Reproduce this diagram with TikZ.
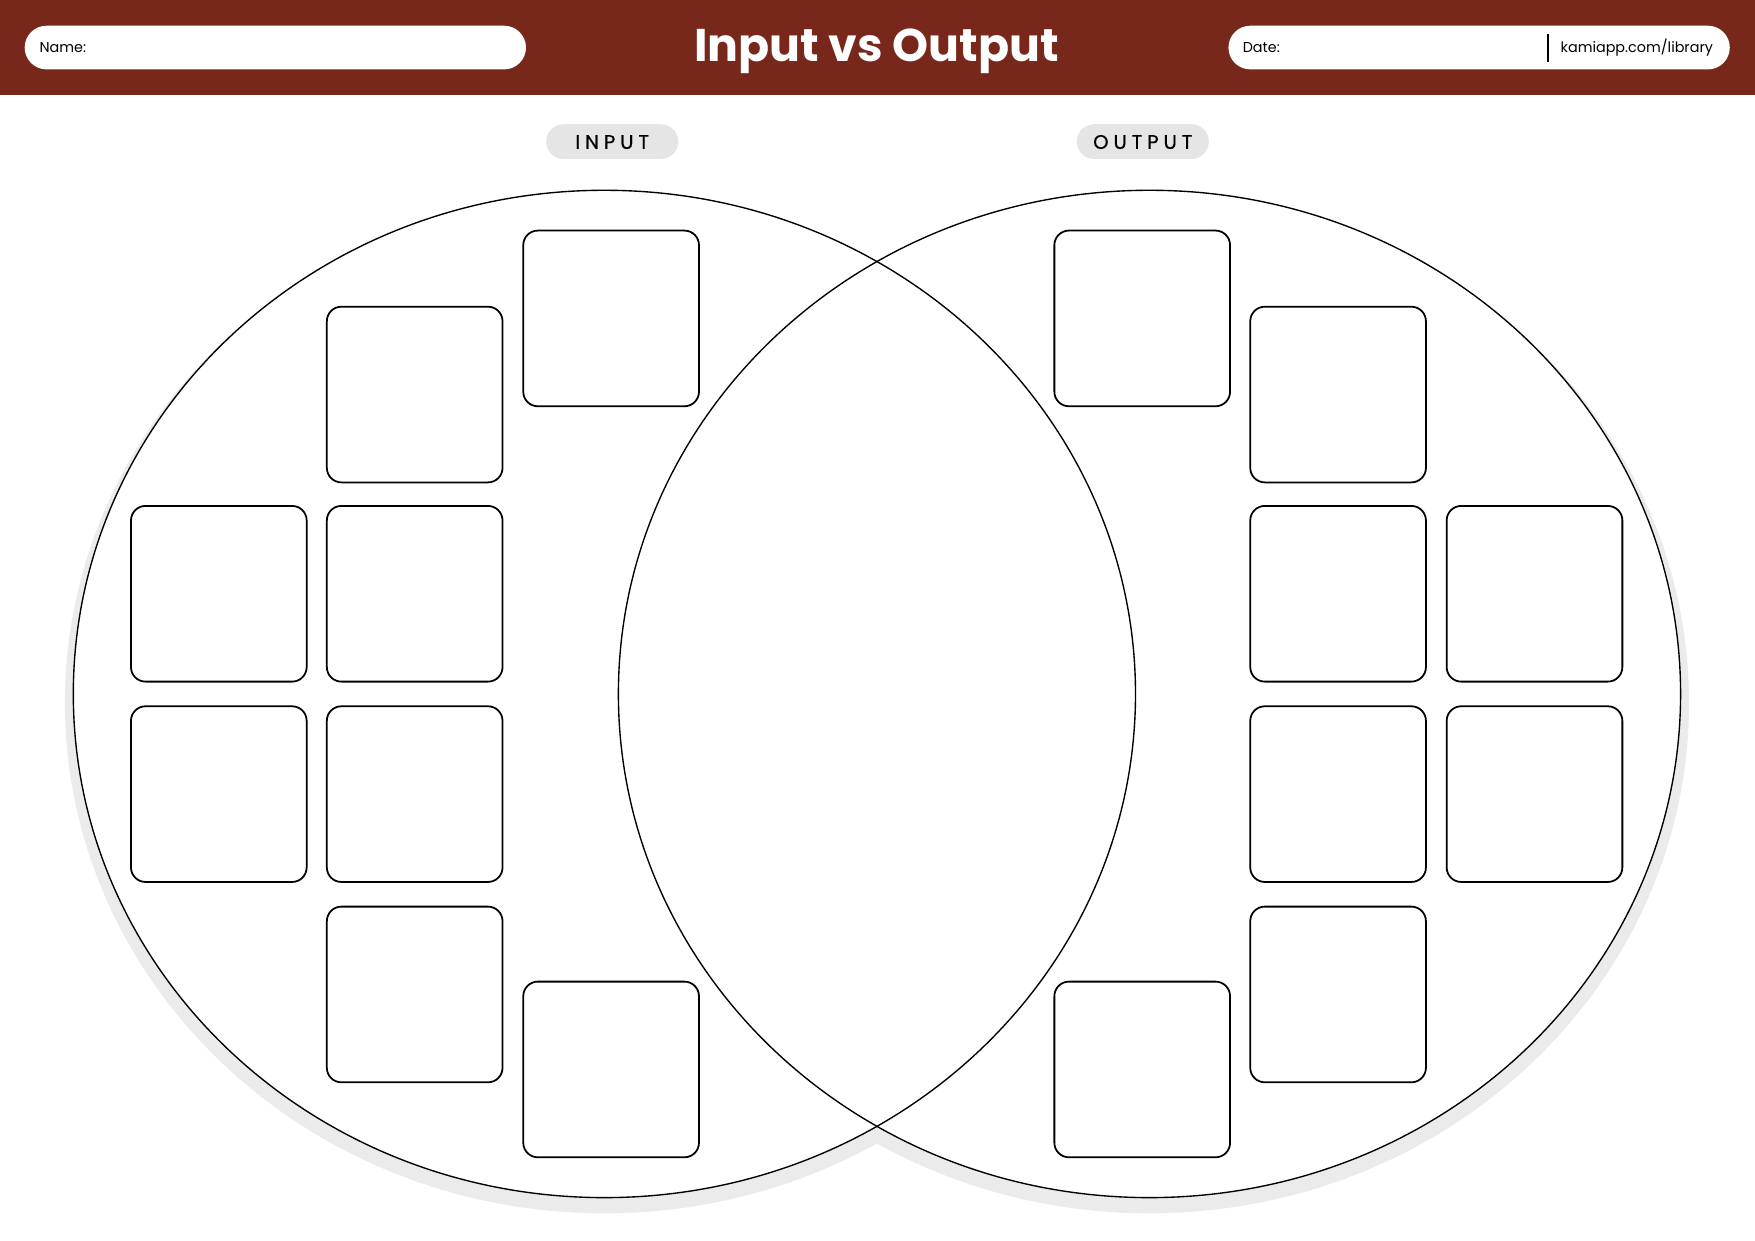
\documentclass[tikz,border=0pt]{standalone}
\usepackage{fontspec}
\setmainfont{Poppins}
\newfontfamily\pillfont[LetterSpace=25, FakeBold=0.6]{Poppins}
\usetikzlibrary{positioning}
\usetikzlibrary{shapes.misc}

\definecolor{headred}{HTML}{78271B}
\definecolor{pillgray}{HTML}{E5E5E5}
\definecolor{shadegray}{HTML}{EBEBEB}

\tikzset{
  cell/.style={draw=black, line width=0.9pt, rectangle, rounded corners=0.26cm,
    minimum width=3.14cm, minimum height=3.14cm, inner sep=0pt},
  pill/.style={rounded rectangle, fill=white, draw=none, minimum width=8.96cm,
    minimum height=0.78cm, inner sep=0pt},
  tag/.style={rounded rectangle, fill=pillgray, draw=none, minimum width=2.36cm,
    minimum height=0.62cm, inner sep=0pt},
  venn/.style={draw=black, line width=0.7pt}
}

\begin{document}
\begin{tikzpicture}[x=0.02cm, y=-0.02cm]
\useasboundingbox (0,0) rectangle (1568,1108);
\fill[white] (0,0) rectangle (1568,1108);

% header
\fill[headred] (0,0) rectangle (1568,85);
\node[pill] (namebox) at (246,42.5) {};
\node[pill] (datebox) at (1321.5,42.5) {};
\node[font=\fontsize{7.3}{8}\selectfont, anchor=base west, inner sep=0pt] (namelbl) at (35,46.5) {Name:};
\node[font=\fontsize{7.3}{8}\selectfont, anchor=base west, inner sep=0pt] (datelbl) at (1110,46.5) {Date:};
\draw[black, line width=0.8pt] (1383,30) -- (1383,55);
\node[font=\fontsize{7.3}{8}\selectfont, anchor=base west, inner sep=0pt] (site) at (1394,46.5) {kamiapp.com/library};
\node[font=\fontsize{23.3}{27}\selectfont\bfseries, text=white, anchor=base, inner sep=0pt] (title) at (783,55) {Input vs Output};

% column tags
\node[tag] (intag) at (547,126.5) {};
\node[tag] (outtag) at (1021,126.5) {};
\node[font=\pillfont\fontsize{10}{12}\selectfont, anchor=base, inner sep=0pt] at (547,133) {INPUT};
\node[font=\pillfont\fontsize{10}{12}\selectfont, anchor=base, inner sep=0pt] at (1021,133) {OUTPUT};

% venn
\fill[shadegray] (540,628) ellipse [x radius=482, y radius=456];
\fill[shadegray] (1027,628) ellipse [x radius=482, y radius=456];
\fill[white] (540,620) ellipse [x radius=474.5, y radius=450];
\fill[white] (1027,620) ellipse [x radius=474.5, y radius=450];
\draw[venn] (540,620) ellipse [x radius=474.5, y radius=450];
\draw[venn] (1027,620) ellipse [x radius=474.5, y radius=450];

% input boxes
\node[cell] (inC1) at (546,284.5) {};
\node[cell] (inB1) at (370.5,352.5) {};
\node[cell] (inA1) at (195.5,530.5) {};
\node[cell] (inB2) at (370.5,530.5) {};
\node[cell] (inA2) at (195.5,709.5) {};
\node[cell] (inB3) at (370.5,709.5) {};
\node[cell] (inB4) at (370.5,888.5) {};
\node[cell] (inC2) at (546,955.5) {};

% output boxes
\node[cell] (outC1) at (1020.5,284.5) {};
\node[cell] (outB1) at (1195.5,352.5) {};
\node[cell] (outB2) at (1195.5,530.5) {};
\node[cell] (outA1) at (1371,530.5) {};
\node[cell] (outB3) at (1195.5,709.5) {};
\node[cell] (outA2) at (1371,709.5) {};
\node[cell] (outB4) at (1195.5,888.5) {};
\node[cell] (outC2) at (1020.5,955.5) {};

\end{tikzpicture}
\end{document}
